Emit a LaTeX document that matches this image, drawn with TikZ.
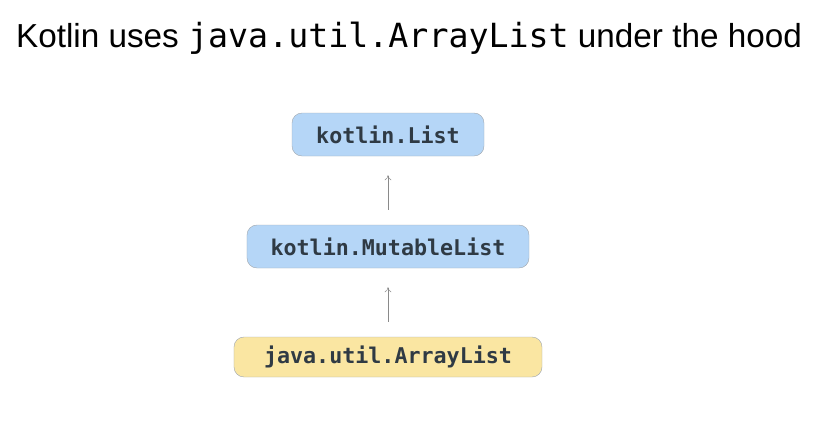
\documentclass[tikz,border=0pt]{standalone}
\usepackage{fontspec}
\setmainfont{Liberation Sans}
\setmonofont{DejaVu Sans Mono}
\usepackage{tikz}
\usetikzlibrary{arrows.meta, positioning}
\usepackage{xcolor}

\definecolor{listblue}{HTML}{B5D6F7}
\definecolor{listyellow}{HTML}{FAE6A2}
\definecolor{boxline}{HTML}{A3AAB1}
\definecolor{boxtext}{HTML}{2F3A44}
\definecolor{arrowgray}{HTML}{8A8A8A}

\begin{document}
\begin{tikzpicture}[
    x=0.03cm, y=-0.03cm,
    % Node styles
    typebox/.style={rectangle, draw=boxline, rounded corners=0.3cm, minimum height=1.29cm, align=center, text=boxtext, font=\fontsize{18.5}{22}\selectfont\ttfamily\bfseries},
    kotlinbox/.style={typebox, fill=listblue},
    javabox/.style={typebox, fill=listyellow, minimum height=1.2cm},
    inherit/.style={-{To[length=1.5mm, width=2mm]}, arrowgray, line width=0.4pt},
]
\useasboundingbox (0,0) rectangle (814,437);

% Title
\node[anchor=base, font=\fontsize{28.4}{34}\selectfont, inner sep=0pt] (title) at (409, 47)
    {Kotlin uses \texttt{java.util.ArrayList} under the hood};

% Type hierarchy
\node[kotlinbox, minimum width=5.76cm] (list) at (388, 134.5) {kotlin.List};
\node[kotlinbox, minimum width=8.46cm] (mutable) at (388, 246.5) {kotlin.MutableList};
\node[javabox, minimum width=9.24cm] (arraylist) at (388, 357) {java.util.ArrayList};

% Arrows
\draw[inherit, shorten >=0.57cm, shorten <=0.45cm] (mutable) -- (list);
\draw[inherit, shorten >=0.57cm, shorten <=0.45cm] (arraylist) -- (mutable);

\end{tikzpicture}
\end{document}
